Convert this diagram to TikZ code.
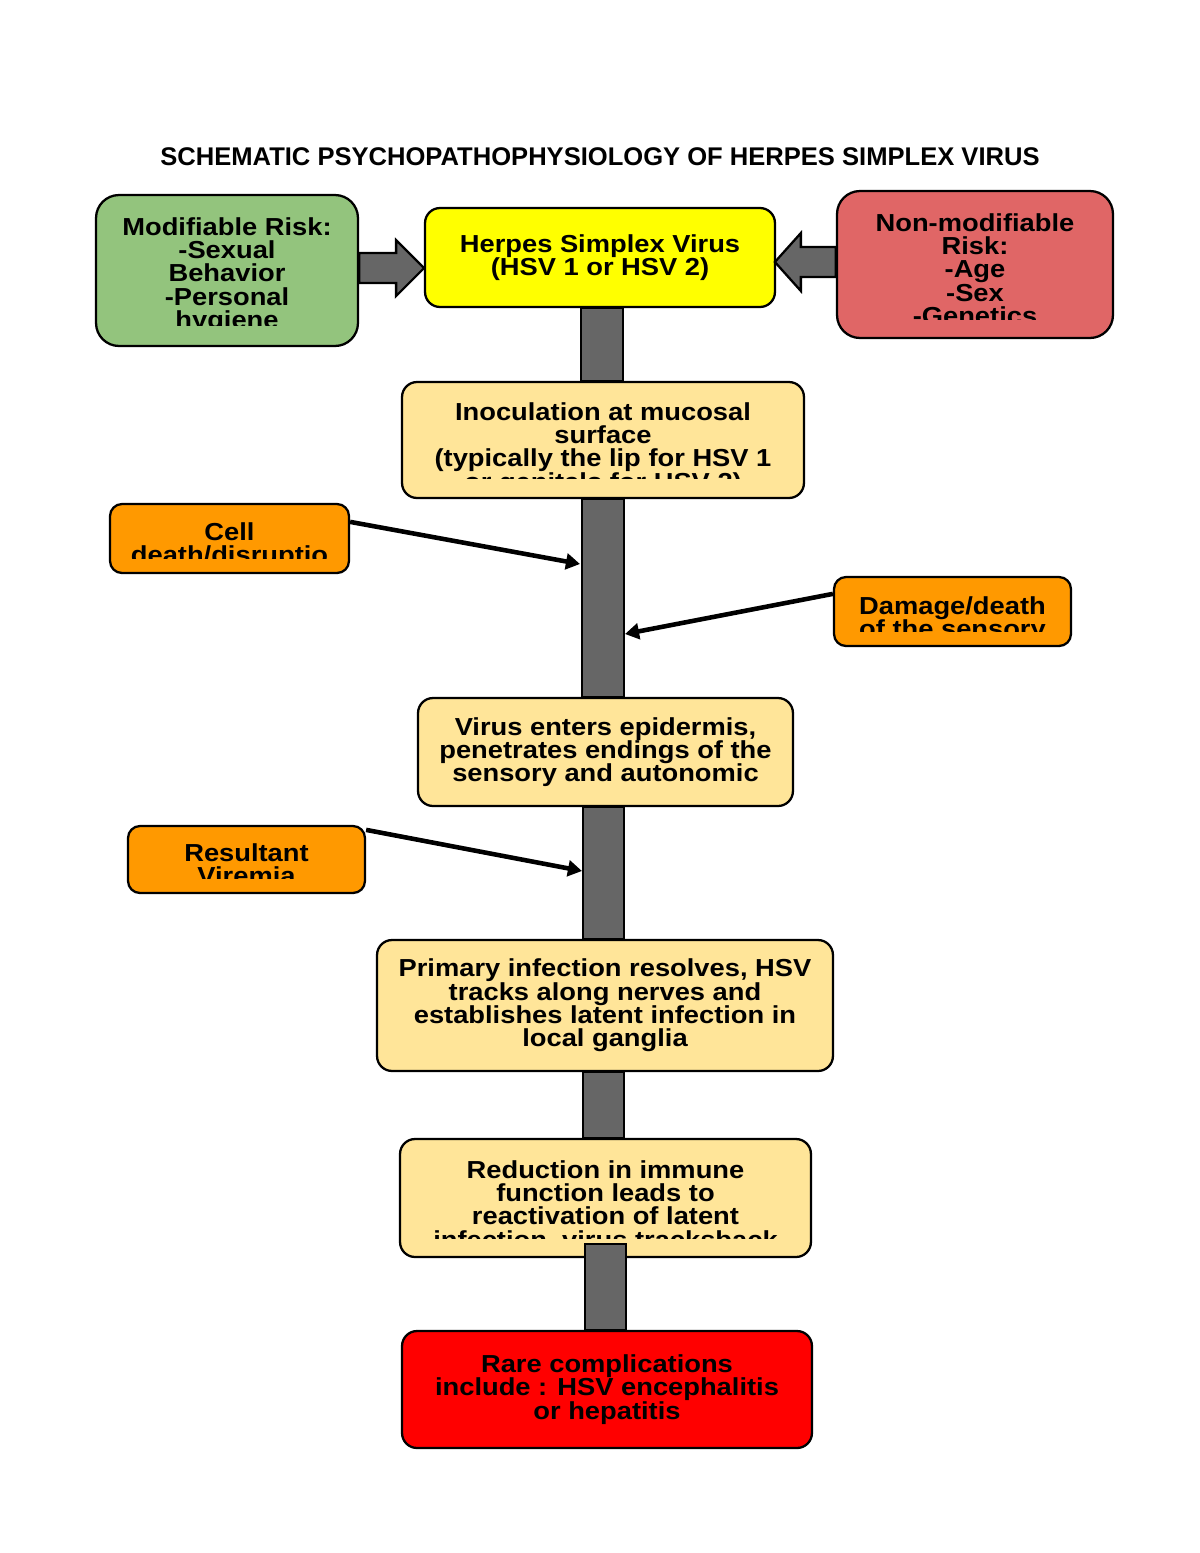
\documentclass[tikz,border=0pt]{standalone}
\usepackage{fontspec}
\setmainfont{Liberation Sans}
\newfontfamily\cardfamily{Liberation Sans}[FakeStretch=1.11]
\usetikzlibrary{arrows.meta,calc,backgrounds}

\definecolor{riskgreen}{HTML}{93C47D}
\definecolor{virusyellow}{HTML}{FFFF00}
\definecolor{riskred}{HTML}{E06666}
\definecolor{stepyellow}{HTML}{FFE599}
\definecolor{effectorange}{HTML}{FF9900}
\definecolor{alertred}{HTML}{FF0000}
\definecolor{bargray}{HTML}{666666}

\newcommand{\cardfont}{\cardfamily\bfseries\fontsize{14}{13.3}\selectfont\lineskiplimit=-20pt}
\newcommand{\headfont}{\bfseries\fontsize{14.55}{16}\selectfont}

\begin{document}
\begin{tikzpicture}[
    x=0.02cm, y=-0.02cm,
    card/.style={draw, line width=1.3pt, rounded corners=0.3cm, inner sep=0pt, align=center, font=\cardfont},
    cardtext/.style={anchor=north, inner sep=0pt, align=center, font=\cardfont},
    bar/.style={draw=black, line width=1.2pt, fill=bargray},
    blockarrow/.style={draw=black, line width=1.3pt, fill=bargray, line join=miter},
    pointer/.style={-{Triangle[length=8pt,width=9pt]}, line width=2.6pt}
]
    \useasboundingbox (0,0) rectangle (1200,1553);

    % Title
    \node[font=\headfont, anchor=north, inner sep=0pt] (title) at (600,147) {SCHEMATIC PSYCHOPATHOPHYSIOLOGY OF HERPES SIMPLEX VIRUS};

    % Top row: risks and virus
    \node[card, fill=riskgreen, rounded corners=0.46cm, minimum width=5.24cm, minimum height=3.02cm] (modrisk) at (227,270.5) {};
    \node[card, fill=virusyellow, minimum width=7cm, minimum height=1.98cm] (hsv) at (600,257.5) {Herpes Simplex Virus\\(HSV 1 or HSV 2)};
    \node[card, fill=riskred, rounded corners=0.46cm, minimum width=5.52cm, minimum height=2.94cm] (nonmod) at (975,264.5) {};

    \begin{scope}
        \clip (modrisk.north west) rectangle ($(modrisk.south east)+(0,-22)$);
        \node[cardtext] (modtext) at (227,217) {Modifiable Risk:\\-Sexual\\Behavior\\-Personal\\hygiene};
    \end{scope}
    \begin{scope}
        \clip (nonmod.north west) rectangle ($(nonmod.south east)+(0,-20)$);
        \node[cardtext] (nonmodtext) at (975,213) {Non-modifiable\\Risk:\\-Age\\-Sex\\-Genetics};
    \end{scope}

    % Main chain
    \node[card, fill=stepyellow, minimum width=8.04cm, minimum height=2.32cm] (inoc) at (603,440) {};
    \begin{scope}
        \clip (inoc.north west) rectangle ($(inoc.south east)+(0,-21)$);
        \node[cardtext] (inoctext) at (603,402) {Inoculation at mucosal\\surface\\(typically the lip for HSV 1\\or genitals for HSV 2)};
    \end{scope}

    \node[card, fill=stepyellow, minimum width=7.5cm, minimum height=2.16cm] (virus) at (605.5,752) {Virus enters epidermis,\\penetrates endings of the\\sensory and autonomic};
    \node[card, fill=stepyellow, minimum width=9.12cm, minimum height=2.62cm] (primary) at (605,1005.5) {Primary infection resolves, HSV\\tracks along nerves and\\establishes latent infection in\\local ganglia};

    \node[card, fill=stepyellow, minimum width=8.22cm, minimum height=2.36cm] (reduce) at (605.5,1198) {};
    \begin{scope}
        \clip (reduce.north west) rectangle ($(reduce.south east)+(0,-20)$);
        \node[cardtext] (reducetext) at (605.5,1160) {Reduction in immune\\function leads to\\reactivation of latent\\infection, virus tracksback};
    \end{scope}

    \node[card, fill=alertred, minimum width=8.2cm, minimum height=2.34cm] (rare) at (607,1389.5) {Rare complications\\include : HSV encephalitis\\or hepatitis};

    % Side effects
    \node[card, fill=effectorange, rounded corners=0.24cm, minimum width=4.78cm, minimum height=1.38cm] (cell) at (229.5,538.5) {};
    \begin{scope}
        \clip (cell.north west) rectangle ($(cell.south east)+(0,-16)$);
        \node[cardtext] (celltext) at (229.5,522) {Cell\\death/disruptio};
    \end{scope}
    \node[card, fill=effectorange, rounded corners=0.24cm, minimum width=4.74cm, minimum height=1.38cm] (damage) at (952.5,611.5) {};
    \begin{scope}
        \clip (damage.north west) rectangle ($(damage.south east)+(0,-16)$);
        \node[cardtext] (damagetext) at (952.5,596) {Damage/death\\of the sensory};
    \end{scope}
    \node[card, fill=effectorange, rounded corners=0.24cm, minimum width=4.74cm, minimum height=1.34cm] (result) at (246.5,859.5) {};
    \begin{scope}
        \clip (result.north west) rectangle ($(result.south east)+(0,-16)$);
        \node[cardtext] (resulttext) at (246.5,843) {Resultant\\Viremia};
    \end{scope}

    % Gray bars
    \begin{scope}[on background layer]
        \draw[bar] ($(hsv.south)+(-19,0)$) rectangle ($(inoc.north)+(20,0)$);
        \draw[bar] ($(inoc.south)+(-21,0)$) rectangle ($(virus.north)+(18.5,0)$);
        \draw[bar] ($(virus.south)+(-22.5,0)$) rectangle ($(primary.north)+(19,0)$);
        \draw[bar] ($(primary.south)+(-22,0)$) rectangle ($(reduce.north)+(18.5,0)$);
    \end{scope}
    \draw[bar] ($(reduce.south)+(-20.5,-14)$) rectangle ($(rare.north)+(19,0)$);

    % Block arrows into the virus box
    \draw[blockarrow] ($(modrisk.east)+(0,-2.5)$) ++(0,-15) -- ++(37,0) -- ++(0,-13) -- ++(28,28) -- ++(-28,28) -- ++(0,-13) -- ++(-37,0) -- cycle;
    \draw[blockarrow] ($(nonmod.west)+(0,-2.5)$) ++(0,-15) -- ++(-35,0) -- ++(0,-14) -- ++(-26,29) -- ++(26,29) -- ++(0,-14) -- ++(35,0) -- cycle;

    % Pointers onto the bars
    \coordinate (hitcell) at (580,564);
    \coordinate (hitdamage) at (625,634);
    \coordinate (hitresult) at (582,871);
    \draw[pointer] ($(cell.north east)+(0,19)$) -- (hitcell);
    \draw[pointer] ($(damage.north west)+(0,18)$) -- (hitdamage);
    \draw[pointer] ($(result.north east)+(0,5)$) -- (hitresult);
\end{tikzpicture}
\end{document}
